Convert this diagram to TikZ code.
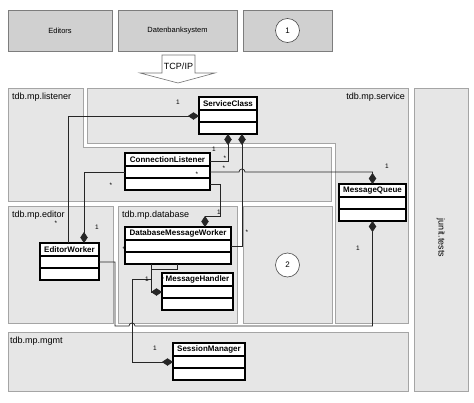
\documentclass[tikz,border=0pt]{standalone}
\usepackage{fontspec}
\setmainfont{Liberation Sans}
\usepackage{tikz}
\usetikzlibrary{shapes,arrows.meta,positioning,calc}
\definecolor{pkgfill}{RGB}{230,230,230}
\definecolor{pkgline}{RGB}{165,165,165}
\definecolor{sysfill}{RGB}{208,208,208}
\definecolor{sysline}{RGB}{125,125,125}

\tikzset{
  sysbox/.style={rectangle, draw=sysline, fill=sysfill, line width=0.8pt, minimum height=41pt, font=\fontsize{7.5}{9}\selectfont},
  pkg/.style={draw=pkgline, fill=pkgfill, line width=0.8pt},
  pkglabel/.style={inner sep=0pt, font=\fontsize{9}{10}\selectfont},
  clsname/.style={rectangle, draw, fill=white, line width=1.1pt, inner sep=0pt, outer sep=0pt, minimum height=13pt, font=\fontsize{8}{9}\selectfont\bfseries},
  clspart/.style={rectangle, draw, fill=white, line width=1.1pt, inner sep=0pt, outer sep=0pt, minimum height=12pt},
  comp/.style={line width=0.7pt, black!85},
  diamend/.style={-{Diamond[length=11pt,width=7.5pt]}},
  diamstart/.style={{Diamond[length=11pt,width=7.5pt]}-},
  mult/.style={inner sep=0pt, font=\fontsize{6.5}{7}\selectfont},
  num/.style={circle, draw=black!70, fill=white, line width=0.6pt, minimum size=24pt, inner sep=0pt, font=\fontsize{8}{9}\selectfont}
}

\begin{document}
\begin{tikzpicture}[x=1pt, y=-1pt]
    \useasboundingbox (0,0) rectangle (474,402);

    % Systems
    \foreach \id/\x/\w/\txt in {editors/60/104/Editors, dbsys/177.5/119/Datenbanksystem, sysnum/287.5/89/} {
        \node[sysbox, minimum width=\w pt] (\id) at (\x,30.5) {\txt};
    }
    \node[num] (one) at (sysnum) {1};

    % TCP/IP
    \draw[draw=black!55, fill=white, line width=0.6pt] (162,55) -- (195,55) -- (195,73) -- (215,73) -- (178,83) -- (140,73) -- (162,73) -- cycle;
    \node[font=\fontsize{9}{10}\selectfont] (tcp) at (178.5,66) {TCP/IP};

    % Packages
    \draw[pkg] (8,88) -- (83,88) -- (83,147) -- (331,147) -- (331,201) -- (8,201) -- cycle;
    \draw[pkg] (87,88) -- (408,88) -- (408,323) -- (335,323) -- (335,143) -- (87,143) -- cycle;
    \draw[pkg] (414,88) rectangle (468,391);
    \draw[pkg] (8,206) rectangle (113,323);
    \draw[pkg] (118,206) rectangle (237,323);
    \draw[pkg] (243,206) rectangle (332,323);
    \draw[pkg] (8,332) rectangle (408,391);
    \node[num] (two) at (287.5,265) {2};

    \node[pkglabel, anchor=west] (listener) at (12,97) {tdb.mp.listener};
    \node[pkglabel, anchor=east] (service) at (405,97) {tdb.mp.service};
    \node[pkglabel, anchor=west] (editor) at (12,215) {tdb.mp.editor};
    \node[pkglabel, anchor=west] (database) at (122,215) {tdb.mp.database};
    \node[pkglabel, anchor=west] (mgmt) at (10,341) {tdb.mp.mgmt};
    \node[pkglabel, rotate=-90] (junit) at (441,238) {junit.tests};

    % Classes
    \foreach \id/\x/\y/\w/\txt in {sc/199/97/58/ServiceClass, cl/125/153/85/ConnectionListener, mq/339/184/67/MessageQueue, ew/40/243/59/EditorWorker, dmw/125/227/106/DatabaseMessageWorker, mh/162/273/71/MessageHandler, sm/173/343/72/SessionManager} {
        \node[clsname, minimum width=\w pt, anchor=north west] (\id) at (\x,\y) {\txt};
        \node[clspart, minimum width=\w pt, below=0pt of \id] (\id-a) {};
        \node[clspart, minimum width=\w pt, below=0pt of \id-a] (\id-b) {};
    }

    % Compositions
    \draw[comp, diamstart] (sc-a.west) -| ($(ew.north)+(-1.5,0)$);
    \draw[comp, diamend] (cl-a.west) -| ($(ew.north)+(14.5,0)$);
    \draw[comp, diamend] ($(cl.east)+(0,2)$) -| (sc-b.south);
    \draw[comp, diamend] (dmw-a.east) -| ($(sc-b.south)+(14,0)$);
    \draw[comp, diamend] (cl-a.east) -- ($(cl-a.east -| sc-b.south)+(11,0)$) arc[start angle=180, end angle=0, radius=3pt] -| (mq.north);
    \draw[comp, diamend] (ew-a.east) -- ++(16,0) -- ++(0,64) -- ++(14,0) arc[start angle=180, end angle=0, radius=3pt] -| (mq-b.south);
    \draw[comp, diamend] (cl-b.east) -- ++(10,0) |- ($(dmw.north)+(27,-11)$) -- ($(dmw.north)+(27,0)$);
    \draw[comp, diamend] ($(dmw-b.south)+(-1,0)$) -- ++(0,5) -| ($(mh-a.west)+(-11,0)$) -- (mh-a.west);
    \draw[comp, diamend] ($(dmw-b.south)+(-27,0)$) -- ++(0,15) -- ++(-19,0) |- (sm-a.west);

    % Multiplicities
    \foreach \n/\x/\y/\t in {1/178/102/1, 2/214/149/1, 3/225/158/*, 4/224/168/*, 5/197/174/*, 6/387/166/1, 7/111/185/*, 8/56/223/*, 9/97/227/1, 10/219/212/1, 11/247/232/*, 12/124/249/*, 13/358/248/1, 14/147/279/1, 15/163/279/*, 16/155/348/1} {
        \node[mult] (mult\n) at (\x,\y) {\t};
    }
\end{tikzpicture}
\end{document}
